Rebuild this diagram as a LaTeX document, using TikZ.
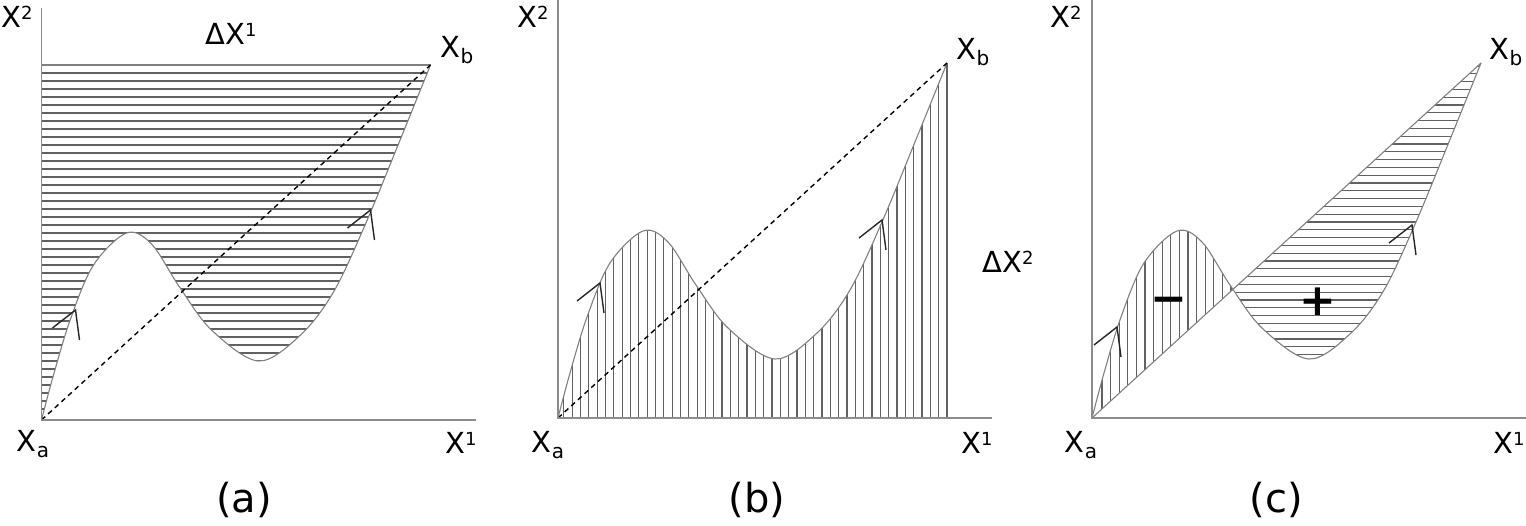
\documentclass[tikz,border=0pt]{standalone}
\usepackage{fontspec}
\setmainfont{DejaVu Sans}
\newcommand{\sps}[1]{\raisebox{4.3pt}{\fontsize{9}{9}\selectfont #1}}
\newcommand{\sbs}[1]{\raisebox{-3pt}{\fontsize{10}{10}\selectfont #1}}
\newcommand{\curvepath}{plot[smooth,tension=0.55] coordinates {(0,0) (12,-45) (29,-101) (52,-155) (85,-187) (110,-176) (138,-133) (170,-90) (217,-59) (259,-85) (292,-128) (324,-196) (359,-281) (389,-355)}}
\begin{document}
\begin{tikzpicture}[x=0.5pt,y=-0.5pt,
  axis/.style={draw=black!45, line width=0.7pt},
  curve/.style={draw=black!50, line width=0.55pt},
  hatch/.style={draw=black!62, line width=0.6pt},
  dline/.style={draw=black, line width=0.7pt, dash pattern=on 2.5pt off 2pt},
  tipline/.style={draw=black!85, line width=0.7pt},
  lab/.style={font=\fontsize{14.5}{14.5}\selectfont, inner sep=0pt},
  captxt/.style={font=\fontsize{20}{20}\selectfont, inner sep=0pt},
  signtxt/.style={font=\fontsize{22}{22}\selectfont\bfseries, inner sep=0pt}]
\useasboundingbox (0,0) rectangle (1526,525);

% ---------- panel (a)
\begin{scope}[shift={(41.5,420)}]
  \coordinate (aO) at (0,0);
  \coordinate (aB) at (389,-355);
  \coordinate (aT) at (0,-355);
  \begin{scope}
    \clip \curvepath -- (0,-355) -- cycle;
    \foreach \k in {0,...,45} \draw[hatch] (0,-355+8*\k) -- (400,-355+8*\k);
  \end{scope}
  \draw[curve] \curvepath;
  \draw[curve] (aT) -- (aB);
  \draw[dline] (aO) -- (aB);
  \draw[axis] (0,-412) -- (aO) -- (434,0);
  \draw[tipline] (34,-110) ++(-23,18) -- ++(23,-18) -- ++(4,30);
  \draw[tipline] (329,-210) ++(-23,18) -- ++(23,-18) -- ++(4,30);
\end{scope}

% ---------- panel (b)
\begin{scope}[shift={(558,418)}]
  \coordinate (bO) at (0,0);
  \coordinate (bB) at (389,-355);
  \coordinate (bF) at (389,0);
  \begin{scope}
    \clip \curvepath -- (389,0) -- cycle;
    \foreach \k in {0,...,46} \draw[hatch] (389-8.33*\k,-360) -- (389-8.33*\k,0);
  \end{scope}
  \draw[curve] \curvepath;
  \draw[hatch] (bB) -- (bF);
  \draw[dline] (bO) -- (bB);
  \draw[axis] (0,-418) -- (bO) -- (434,0);
  \draw[tipline] (42,-135) ++(-23,18) -- ++(23,-18) -- ++(4,30);
  \draw[tipline] (324,-198) ++(-23,18) -- ++(23,-18) -- ++(4,30);
\end{scope}

% ---------- panel (c)
\begin{scope}[shift={(1092,418)}]
  \coordinate (cO) at (0,0);
  \coordinate (cB) at (389,-355);
  \begin{scope}
    \clip \curvepath -- (0,0) -- cycle;
    \foreach \k in {0,...,15} \draw[hatch] (10+8.6*\k,-200) -- (10+8.6*\k,0);
    \foreach \k in {0,...,38} \draw[hatch] (141,-352+7.8*\k) -- (400,-352+7.8*\k);
  \end{scope}
  \draw[curve] \curvepath;
  \draw[curve] (cO) -- (cB);
  \draw[axis] (0,-418) -- (cO) -- (434,0);
  \draw[tipline] (25,-91) ++(-23,18) -- ++(23,-18) -- ++(4,30);
  \draw[tipline] (320,-193) ++(-23,18) -- ++(23,-18) -- ++(4,30);
\end{scope}

% ---------- labels
\node[lab] (ax2) at (17,17) {X\sps{2}};
\node[lab] (adx) at (231,34) {ΔX\sps{1}};
\node[lab] (axb) at (457,50) {X\sbs{b}};
\node[lab] (axa) at (33,444) {X\sbs{a}};
\node[lab] (ax1) at (461,443) {X\sps{1}};
\node[captxt] (acap) at (244,500) {(a)};

\node[lab] (bx2) at (533,17) {X\sps{2}};
\node[lab] (bdx) at (1008,262) {ΔX\sps{2}};
\node[lab] (bxb) at (973,52) {X\sbs{b}};
\node[lab] (bxa) at (548,445) {X\sbs{a}};
\node[lab] (bx1) at (977,443) {X\sps{1}};
\node[captxt] (bcap) at (757,500) {(b)};

\node[lab] (cx2) at (1066,17) {X\sps{2}};
\node[lab] (cxb) at (1506,52) {X\sbs{b}};
\node[lab] (cxa) at (1081,445) {X\sbs{a}};
\node[lab] (cx1) at (1509,443) {X\sps{1}};
\node[captxt] (ccap) at (1276,500) {(c)};

\node[signtxt] (minus) at (1169,305) {−};
\node[signtxt] (plus) at (1318,302) {+};
\end{tikzpicture}
\end{document}
